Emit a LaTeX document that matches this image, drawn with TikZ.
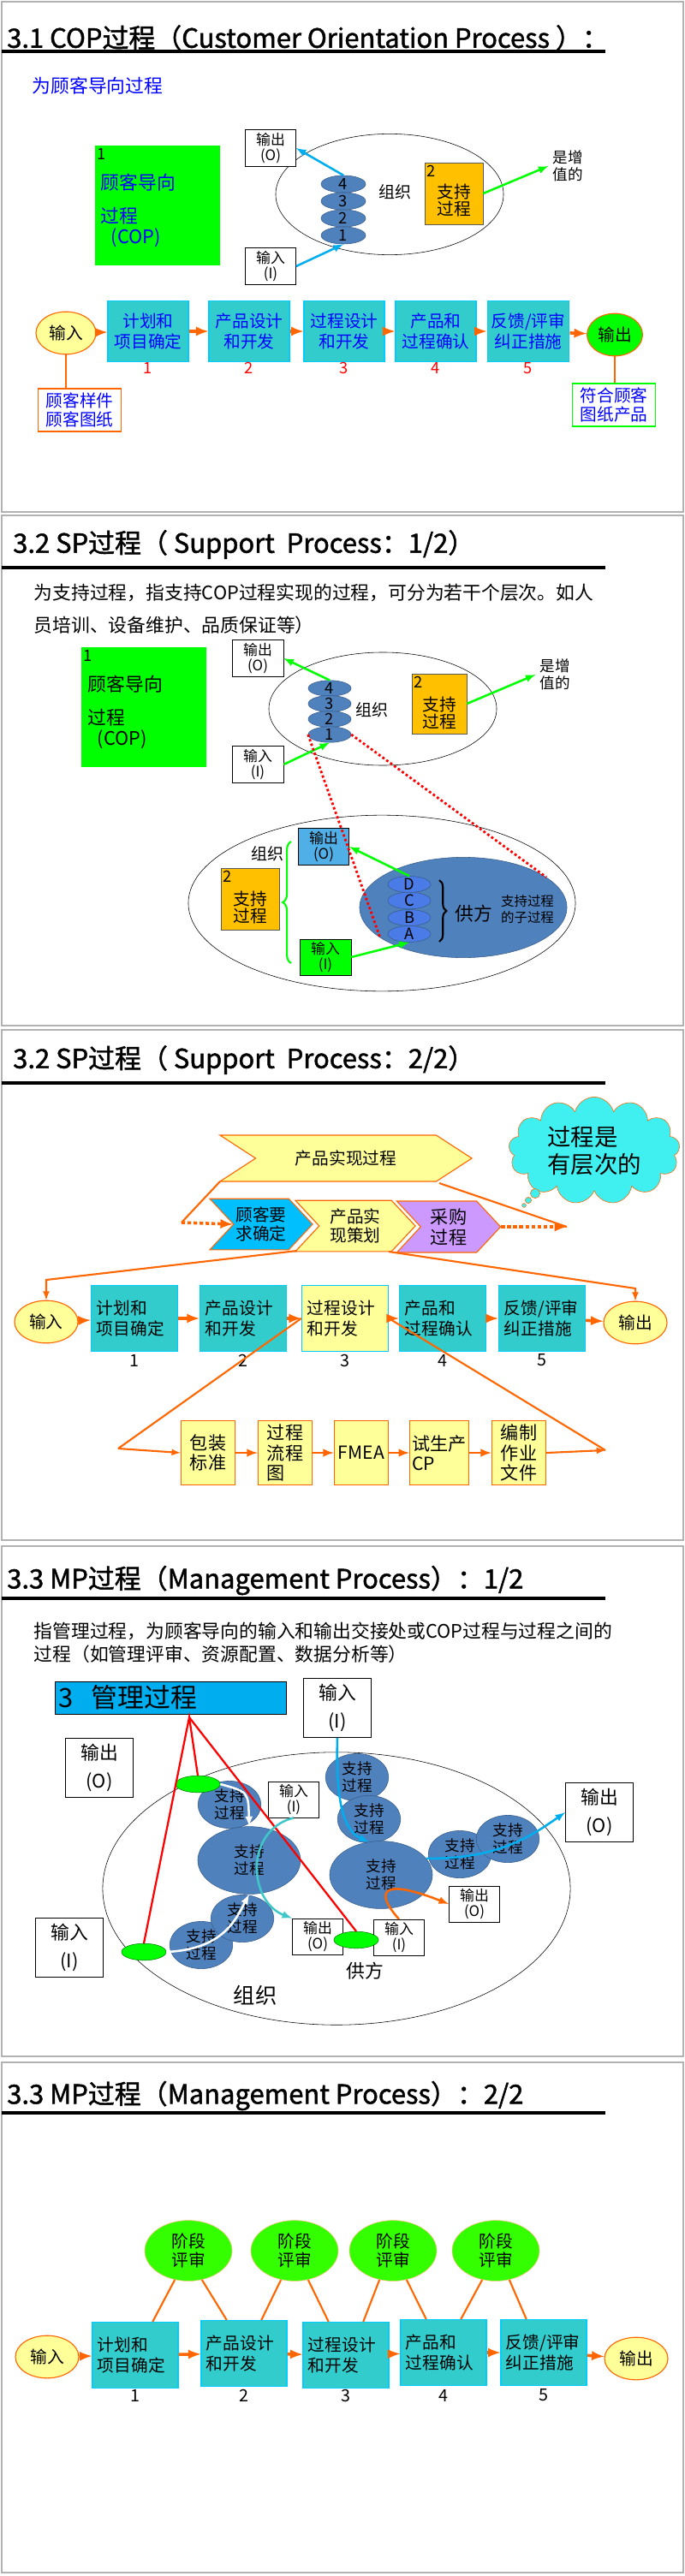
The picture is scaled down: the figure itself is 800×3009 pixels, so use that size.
\documentclass[tikz,border=0pt]{standalone}
\usepackage{fontspec}
\setmainfont{Noto Sans CJK SC}
\newfontfamily\titlefont{Noto Sans CJK SC}[FakeBold=1.5]
\usetikzlibrary{arrows,shapes.geometric,shapes.symbols,decorations.pathreplacing,calc}

\definecolor{stepfill}{HTML}{33CCCC}
\definecolor{stepedge}{HTML}{00CCFF}
\definecolor{arrowor}{HTML}{FF6600}
\definecolor{paleyel}{HTML}{FFFF99}
\definecolor{steel}{HTML}{4F81BD}
\definecolor{steeledge}{HTML}{385D8A}
\definecolor{gold}{HTML}{FFC000}
\definecolor{copgreen}{HTML}{00FF00}
\definecolor{chevblue}{HTML}{00BFFF}
\definecolor{lilac}{HTML}{CC99FF}
\definecolor{cloudc}{HTML}{40F0F0}
\definecolor{brightblue}{HTML}{4A7BE6}
\definecolor{tealc}{HTML}{40C8C8}
\definecolor{revgreen}{HTML}{33FF00}

\newcommand\fsz[2]{\fontsize{#1}{#2}\selectfont}

\tikzset{
  slide/.style={draw=gray!60,line width=2pt},
  head/.style={anchor=west,inner sep=0pt,font=\titlefont\fsz{22}{26}},
  rule/.style={line width=2.2pt},
  txt/.style={inner sep=1pt,font=\fsz{15.5}{20}},
  obox/.style={draw,fill=white,align=center,inner sep=0pt,font=\fsz{12}{12.5},minimum width=1.48cm,minimum height=1.07cm},
  big obox/.style={obox,font=\fsz{15.5}{23},minimum width=1.98cm,minimum height=1.73cm},
  layer/.style={ellipse,draw=steeledge,fill=steel,inner sep=0pt,minimum width=1.3cm,minimum height=0.5cm,font=\fsz{13}{13}},
  org/.style={ellipse,draw,thin},
  support/.style={draw=gray!70!black,fill=gold,minimum width=1.7cm,minimum height=1.79cm},
  cop/.style={fill=copgreen,minimum width=3.65cm,minimum height=3.48cm},
  stage/.style={draw=stepedge,thick,fill=stepfill,align=center,text=blue,font=\fsz{14}{17},minimum width=2.35cm,minimum height=1.77cm},
  stage2/.style={draw=stepedge,thick,fill=stepfill,align=left,text width=2.2cm,font=\fsz{14}{17},minimum width=2.53cm,minimum height=1.92cm},
  endpt/.style={ellipse,draw=arrowor,thick,inner sep=0pt,minimum width=1.85cm,minimum height=1.24cm,font=\fsz{14}{16}},
  flow/.style={arrowor,line width=2.5pt,-latex},
  link/.style={arrowor,line width=1.5pt},
  garrow/.style={green,line width=1.8pt,-latex},
  carrow/.style={cyan,line width=1.8pt,-latex},
  chev/.style={signal,signal from=west,signal to=east,draw=arrowor,thick,inner sep=0pt,align=center,font=\fsz{14}{15.5}},
  pkg/.style={draw=arrowor,thick,fill=paleyel,align=left,inner sep=2pt,font=\fsz{15}{16.5},minimum width=1.58cm,minimum height=1.88cm},
  bubble/.style={ellipse,draw=steeledge,fill=steel,align=center,inner sep=0pt,font=\fsz{12.5}{14}},
  mgate/.style={ellipse,draw=green!50!black,fill=copgreen,minimum width=1.3cm,minimum height=0.49cm},
  review/.style={ellipse,draw=orange!50,fill=revgreen,align=left,font=\fsz{14}{16},minimum width=2.55cm,minimum height=1.58cm}
}

\begin{document}
\begin{tikzpicture}[x=0.025cm,y=-0.025cm]
\useasboundingbox (0,0) rectangle (800,3009);
\foreach \t in {2,602,1203,1806,2409}
  \draw[slide] (2,\t) rectangle (798,\t+596);

% slide 1
\node[head] (h1) at (8,44) {3.1 COP过程（Customer Orientation Process ）：};
\draw[rule] (2,60) -- (707,60);
\node[txt,anchor=west,text=blue] (s1) at (36,100) {为顾客导向过程};
\node[cop] (cop1) at (184,240) {};
\node[anchor=north west,inner sep=2pt,font=\fsz{13}{13}] at (cop1.north west) {1};
\node[txt,anchor=west,text=blue] at (116,213) {顾客导向};
\node[txt,anchor=west,text=blue] at (116,252) {过程};
\node[txt,anchor=west,text=blue] at (128,278) {(COP)};
\node[org,minimum width=6.65cm,minimum height=3.53cm] (org1) at (455,227) {};
\foreach \n/\y in {4/215,3/235,2/255,1/275}
  \node[layer] (p\n) at (401,\y) {\n};
\node[font=\fsz{13.5}{16}] at (461,224) {组织};
\node[support] (sp1) at (530,226) {};
\node[anchor=north west,inner sep=2pt,font=\fsz{13}{13}] at (sp1.north west) {2};
\node[align=center,font=\fsz{14}{12}] at (530,234) {支持\\过程};
\node[align=left,font=\fsz{12.5}{14}] (val1) at (663,194) {是增\\值的};
\draw[garrow] (sp1.east) -- (val1.west);
\node[obox] (o1) at (316,173) {输出\\(O)};
\node[obox] (i1) at (316,311) {输入\\(I)};
\draw[carrow] (p4.north) -- (o1.east);
\draw[carrow] (i1.east) -- (p1.south);

\node[endpt,fill=paleyel,minimum width=1.75cm] (in1) at (77,389) {输入};
\foreach \i/\x/\t in {1/173/{计划和\\项目确定},2/291/{产品设计\\和开发},3/402/{过程设计\\和开发},4/509/{产品和\\过程确认},5/617/{反馈/评审\\纠正措施}}{
  \node[stage] (a\i) at (\x,387) {\t};
  \node[text=red,font=\fsz{13}{13}] at (\x,430) {\i};
}
\node[endpt,fill=copgreen,minimum width=1.62cm] (out1) at (718,391) {输出};
\foreach \u/\v in {in1/a1,a1/a2,a2/a3,a3/a4,a4/a5,a5/out1}
  \draw[flow] (\u) -- (\v);
\node[draw=arrowor,line width=1.2pt,align=center,text=blue,font=\fsz{14}{16},minimum width=2.43cm,minimum height=1.26cm] (doc1) at (93,479) {顾客样件\\顾客图纸};
\node[draw=copgreen,line width=1.2pt,align=center,text=blue,font=\fsz{14}{16},minimum width=2.43cm,minimum height=1.2cm] (doc2) at (717,473) {符合顾客\\图纸产品};
\draw[link] (in1.south) -- (in1.south |- doc1.north);
\draw[link] (out1.south) -- (out1.south |- doc2.north);

% slide 2
\node[head] (h2) at (15,636) {3.2 SP过程（ Support\ \ Process：1/2）};
\draw[rule] (2,663) -- (707,663);
\node[txt,anchor=west] at (38,692) {为支持过程，指支持COP过程实现的过程，可分为若干个层次。如人};
\node[txt,anchor=west] at (38,730) {员培训、设备维护、品质保证等）};
\node[cop] (cop2) at (168,826) {};
\node[anchor=north west,inner sep=2pt,font=\fsz{13}{13}] at (cop2.north west) {1};
\node[txt,anchor=west] at (101,799) {顾客导向};
\node[txt,anchor=west] at (101,838) {过程};
\node[txt,anchor=west] at (112,864) {(COP)};
\node[org,minimum width=6.65cm,minimum height=3.3cm] (org2) at (447,828) {};
\foreach \n/\y in {4/804,3/822,2/840,1/858}
  \node[layer,minimum width=1.25cm,minimum height=0.45cm] (q\n) at (385,\y) {\n};
\node[font=\fsz{13.5}{16}] at (434,829) {组织};
\node[support,minimum width=1.6cm,minimum height=1.75cm] (sp2) at (513,822) {};
\node[anchor=north west,inner sep=2pt,font=\fsz{13}{13}] at (sp2.north west) {2};
\node[align=center,font=\fsz{14}{12}] at (513,833) {支持\\过程};
\node[align=left,font=\fsz{12.5}{14}] (val2) at (648,788) {是增\\值的};
\draw[garrow] (sp2.east) -- (val2.west);
\node[obox,minimum width=1.5cm] (o2) at (301,769) {输出\\(O)};
\node[obox,minimum width=1.5cm] (i2) at (301,893) {输入\\(I)};
\draw[garrow] (q4.north) -- (o2.east);
\draw[garrow] (i2.east) -- (q1.south);

\node[org,minimum width=11.3cm,minimum height=5.14cm] (org3) at (446,1055) {};
\node[font=\fsz{13.5}{16}] at (312,997) {组织};
\node[support] (sp3) at (292,1050) {};
\node[anchor=north west,inner sep=2pt,font=\fsz{13}{13}] at (sp3.north west) {2};
\node[align=center,font=\fsz{14}{12}] at (292,1060) {支持\\过程};
\node[ellipse,fill=steel,draw=steeledge,minimum width=6.05cm,minimum height=2.93cm] (sup) at (541,1060) {};
\foreach \n/\y in {D/1033,C/1052,B/1072,A/1091}
  \node[layer,fill=brightblue,minimum width=1.25cm,minimum height=0.45cm] (r\n) at (478,\y) {\n};
\draw[line width=1.5pt,decorate,decoration={brace,amplitude=6pt}] (513,1028) -- (513,1100);
\node[font=\fsz{15.5}{18}] at (553,1067) {供方};
\node[align=left,font=\fsz{11}{13}] at (616,1062) {支持过程\\的子过程};
\node[obox,fill=cyan!80!blue!70,minimum width=1.48cm] (o3) at (378,989) {输出\\(O)};
\node[obox,fill=copgreen,minimum width=1.5cm,minimum height=1.05cm] (i3) at (380,1118) {输入\\(I)};
\draw[green,line width=1.5pt,decorate,decoration={brace,amplitude=7pt}] (340,1125) -- (340,983);
\draw[garrow] (rD.north) -- (o3.east);
\draw[garrow] (i3.east) -- (rA.south);
\draw[red,dotted,line width=2pt] (q1.west) -- (sup.200);
\draw[red,dotted,line width=2pt] (q1.east) -- (sup.20);

% slide 3
\node[head] (h3) at (15,1238) {3.2 SP过程（ Support\ \ Process：2/2）};
\draw[rule] (2,1265) -- (707,1265);
\node[chev,fill=paleyel,minimum width=7.35cm,minimum height=1.35cm,signal pointer angle=66] (rp) at (404,1353) {产品实现过程};
\node[chev,fill=chevblue,minimum width=3cm,minimum height=1.49cm,signal pointer angle=94] (cr) at (305,1430) {顾客要\\求确定};
\node[chev,fill=paleyel,minimum width=3.5cm,minimum height=1.49cm,signal pointer angle=94] (pp) at (415,1432) {产品实\\现策划};
\node[chev,fill=lilac,minimum width=3.03cm,minimum height=1.5cm,signal pointer angle=94,font=\fsz{15}{17}] (pu) at (524,1433) {采购\\过程};
\node[cloud,cloud puffs=13,aspect=1.9,draw=arrowor,fill=cloudc,align=left,font=\fsz{19.5}{23},minimum width=5cm,minimum height=2.63cm] (cl) at (694,1344) {过程是\\有层次的};
\node[circle,draw=arrowor,fill=cloudc,minimum size=0.28cm,inner sep=0pt] (cb1) at (625,1394) {};
\node[circle,draw=arrowor,fill=cloudc,minimum size=0.18cm,inner sep=0pt] (cb2) at (617,1402) {};
\node[circle,draw=arrowor,fill=cloudc,minimum size=0.12cm,inner sep=0pt] (cb3) at (612,1408) {};
\coordinate (rpl) at (257,1380);
\coordinate (rpr) at (513,1382);
\coordinate (dl) at (212,1428);
\coordinate (dr) at (662,1433);
\draw[link] (rpl) -- (dl);
\draw[link] (rpr) -- (dr);
\draw[arrowor,line width=2.5pt,dash pattern=on 3pt off 2pt,-latex] (dl) -- (cr.west);
\draw[arrowor,line width=2.5pt,dash pattern=on 3pt off 2pt,-latex] (pu.east) -- (dr);

\node[endpt,fill=paleyel] (in3) at (54,1544) {输入};
\foreach \i/\x/\t in {1/157/{计划和\\项目确定},2/284/{产品设计\\和开发},3/403/{过程设计\\和开发},4/517/{产品和\\过程确认},5/633/{反馈/评审\\纠正措施}}{
  \node[stage2] (c\i) at (\x,1540) {\t};
  \node[font=\fsz{14}{14}] at (\x,1589) {\i};
}
\node[endpt,fill=paleyel] (out3) at (742,1545) {输出};
\node[stage2,fill=paleyel] at (c3) {过程设计\\和开发};
\foreach \u/\v in {in3/c1,c1/c2,c2/c3,c3/c4,c4/c5,c5/out3}
  \draw[flow] (\u) -- (\v);
\coordinate (ppl) at (347,1461);
\coordinate (ppr) at (454,1462);
\coordinate (kl) at (54,1495);
\coordinate (kr) at (742,1505);
\draw[link,-latex] (ppl) -- (kl) -- (in3.north);
\draw[link,-latex] (ppr) -- (kr) -- (out3.north);

\foreach \i/\x/\t in {1/243/{包装\\标准},2/333/{过程\\流程\\图},3/422/{FMEA},4/513/{试生产\\CP},5/606/{编制\\作业\\文件}}
  \node[pkg] (k\i) at (\x,1697) {\t};
\foreach \u/\v in {k1/k2,k2/k3,k3/k4,k4/k5}
  \draw[arrowor,line width=2pt,-latex] (\u) -- (\v);
\coordinate (fl) at (138,1692);
\coordinate (fr) at (707,1694);
\draw[link] (c3.west) -- (fl);
\draw[link,-latex] (fl) -- (k1.west);
\draw[link] (c3.east) -- (fr);
\draw[link,-latex] (k5.east) -- (fr);

% slide 4
\node[head] (h4) at (8,1846) {3.3 MP过程（Management Process）：1/2};
\draw[rule] (2,1867) -- (707,1867);
\node[txt,anchor=west] at (38,1905) {指管理过程，为顾客导向的输入和输出交接处或COP过程与过程之间的};
\node[txt,anchor=west] at (38,1932) {过程（如管理评审、资源配置、数据分析等）};
\node[draw,fill=cyan,minimum width=6.75cm,minimum height=0.96cm,text width=6.5cm,align=left,font=\fsz{22}{24}] (mg) at (199,1983) {3\ \ 管理过程};
\node[org,minimum width=13.65cm,minimum height=7.96cm] (org4) at (393,2206) {};
\foreach \n/\x/\y/\w/\h in {1/268/2108/1.84/1.38,2/291/2173/3/1.97,4/235/2272/1.84/1.38,3/283/2241/1.84/1.38,5/417/2076/1.84/1.38,6/431/2125/1.84/1.38,7/445/2190/3/1.97,8/537/2166/1.84/1.38,9/593/2148/1.84/1.38}
  \node[bubble,minimum width=\w cm,minimum height=\h cm] (b\n) at (\x,\y) {支持\\过程};
\node[big obox] (bo1) at (116,2065) {输出\\(O)};
\node[big obox] (bi1) at (394,1995) {输入\\(I)};
\node[big obox] (bi2) at (81,2275) {输入\\(I)};
\node[big obox] (bo2) at (700,2117) {输出\\(O)};
\node[obox,minimum height=1.05cm] (si) at (343,2102) {输入\\(I)};
\node[obox,minimum height=1.05cm] (so) at (371,2262) {输出\\(O)};
\node[obox,minimum height=1.05cm] (si2) at (466,2263) {输入\\(I)};
\node[obox,minimum height=1.05cm] (so2) at (554,2224) {输出\\(O)};
\node[mgate] (g1) at (231,2084) {};
\node[mgate] (g2) at (168,2280) {};
\node[mgate] (g3) at (416,2266) {};
\coordinate (apex) at (221,2006);
\draw[red,line width=1.6pt] (g1.north) -- (apex) -- (g2.north);
\draw[red,line width=1.6pt] (apex) -- (g3.north);
\draw[white,line width=1.8pt,-latex] (g1.east) .. controls (290,2093) .. (b2.north);
\draw[white,line width=1.8pt,-latex] (g2.east) .. controls (260,2277) and (275,2243) .. (b2.south);
\draw[tealc,line width=1.8pt,-latex] (si.south) .. controls (285,2138) and (290,2221) .. (so.north west);
\draw[cyan,line width=1.8pt,-latex] (bi1.south) .. controls (392,2100) and (400,2138) .. (b7.110);
\draw[cyan,line width=1.8pt,-latex] (b7.20) .. controls (580,2172) and (620,2145) .. (bo2.west);
\draw[arrowor,line width=1.8pt,-latex] (si2.north) .. controls (440,2213) and (440,2191) .. (so2.west);
\node[font=\fsz{15.5}{18}] at (426,2302) {供方};
\node[font=\fsz{18}{20}] at (298,2331) {组织};

% slide 5
\node[head] (h5) at (8,2448) {3.3 MP过程（Management Process）：2/2};
\draw[rule] (2,2468) -- (707,2468);
\node[endpt,fill=paleyel] (in5) at (55,2753) {输入};
\foreach \i/\x/\y/\t in {1/158/2751/{计划和\\项目确定},2/285/2749/{产品设计\\和开发},3/404/2751/{过程设计\\和开发},4/518/2748/{产品和\\过程确认},5/635/2748/{反馈/评审\\纠正措施}}{
  \node[stage2,minimum width=2.5cm] (m\i) at (\x,\y) {\t};
  \node[font=\fsz{14}{14}] at (\x,2798) {\i};
}
\node[endpt,fill=paleyel] (out5) at (743,2755) {输出};
\foreach \u/\v in {in5/m1,m1/m2,m2/m3,m3/m4,m4/m5,m5/out5}
  \draw[flow] (\u) -- (\v);
\foreach \i/\x in {1/220,2/344,3/459,4/579}{
  \pgfmathtruncatemacro\j{\i+1}
  \node[review] (rv\i) at (\x,2629) {阶段\\评审};
  \draw[link] (rv\i.245) -- ($(m\i.north west)!0.7!(m\i.north east)$);
  \draw[link] (rv\i.295) -- ($(m\j.north west)!0.3!(m\j.north east)$);
}
\end{tikzpicture}
\end{document}
